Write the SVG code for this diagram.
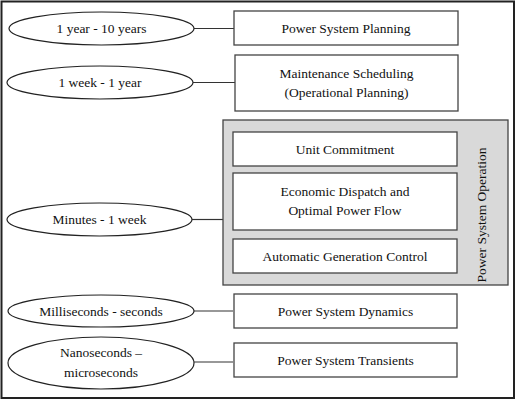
<svg xmlns="http://www.w3.org/2000/svg" width="517" height="400" viewBox="0 0 517 400">
<style>
.t{font-family:"Liberation Serif","Times New Roman",serif;font-size:13.5px;fill:#111;text-anchor:middle}
.b{fill:#fff;stroke:#444;stroke-width:1.3}
.e{fill:#fff;stroke:#222;stroke-width:1.2}
.c{stroke:#333;stroke-width:1.2;fill:none}
</style>
<rect x="0" y="0" width="517" height="400" fill="#fff"/>
<rect x="1.5" y="1.5" width="512.5" height="396.5" fill="none" stroke="#222" stroke-width="2"/>
<g id="connectors">
<line class="c" x1="194" y1="28.5" x2="234" y2="28.5"/>
<line class="c" x1="193" y1="82.5" x2="235" y2="82.5"/>
<line class="c" x1="192" y1="219.5" x2="223" y2="219.5"/>
<line class="c" x1="194" y1="311" x2="233" y2="311"/>
<line class="c" x1="194" y1="362" x2="233" y2="362"/>
</g>
<g id="e1"><ellipse class="e" cx="101.5" cy="28.5" rx="92.5" ry="16.5"/><text class="t" x="101.5" y="33">1 year - 10 years</text></g>
<g id="e2"><ellipse class="e" cx="100" cy="82.5" rx="93" ry="16.5"/><text class="t" x="100" y="87">1 week - 1 year</text></g>
<g id="e3"><ellipse class="e" cx="99.5" cy="219.5" rx="92.5" ry="16.5"/><text class="t" x="99.5" y="224">Minutes - 1 week</text></g>
<g id="e4"><ellipse class="e" cx="101" cy="311" rx="93" ry="16"/><text class="t" x="101" y="315.5">Milliseconds - seconds</text></g>
<g id="e5"><ellipse class="e" cx="101" cy="363" rx="93" ry="26"/><text class="t" x="101" y="357">Nanoseconds –</text><text class="t" x="101" y="377">microseconds</text></g>
<g id="b1"><rect class="b" x="234" y="11" width="224" height="34"/><text class="t" x="346" y="32.5">Power System Planning</text></g>
<g id="b2"><rect class="b" x="235" y="55" width="223" height="56"/><text class="t" x="346.5" y="78">Maintenance Scheduling</text><text class="t" x="346.5" y="97">(Operational Planning)</text></g>
<g id="pso">
<rect x="223" y="120" width="285" height="165" fill="#d9d9d9" stroke="#444" stroke-width="1.3"/>
<text class="t" transform="translate(486,215) rotate(-90)">Power System Operation</text>
</g>
<g id="b3"><rect class="b" x="233" y="132" width="224" height="34"/><text class="t" x="345" y="153.5">Unit Commitment</text></g>
<g id="b4"><rect class="b" x="233" y="173" width="224" height="57"/><text class="t" x="345" y="196">Economic Dispatch and</text><text class="t" x="345" y="215">Optimal Power Flow</text></g>
<g id="b5"><rect class="b" x="233" y="239" width="224" height="34"/><text class="t" x="345" y="261">Automatic Generation Control</text></g>
<g id="b6"><rect class="b" x="234" y="294" width="223" height="34"/><text class="t" x="345.5" y="315.5">Power System Dynamics</text></g>
<g id="b7"><rect class="b" x="234" y="343" width="223" height="34"/><text class="t" x="345.5" y="364.5">Power System Transients</text></g>
</svg>
